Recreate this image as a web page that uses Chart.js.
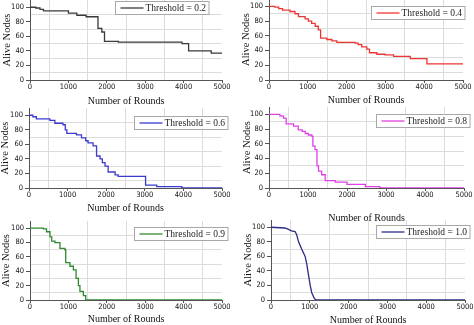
<!DOCTYPE html>
<html lang="en">
<head>
<meta charset="utf-8">
<title>Alive Nodes vs Rounds</title>
<script src="https://cdn.jsdelivr.net/npm/chart.js@4.4.1/dist/chart.umd.min.js"></script>
<style>
  html, body { margin: 0; padding: 0; background: #fff; overflow: hidden; }
  body { width: 474px; height: 325px; position: relative; }
  canvas { position: absolute; }
</style>
</head>
<body>
<canvas id="c1"></canvas>
<canvas id="c2"></canvas>
<canvas id="c3"></canvas>
<canvas id="c4"></canvas>
<canvas id="c5"></canvas>
<canvas id="c6"></canvas>
<script>
// data (rounds where the count changes, alive nodes from there on)
var rounds02 = [0, 150, 260, 350, 1000, 1220, 1460, 1770, 1870, 1940, 2300, 3960, 4130, 4720, 5000];
var alive02  = [100, 99, 97, 95, 92, 89, 87, 71, 66, 53, 52, 50, 40, 37, 37];

var rounds04 = [0, 150, 250, 350, 540, 670, 760, 930, 1015, 1100, 1190, 1270, 1330, 1490, 1620, 1750, 2220, 2300, 2390, 2520, 2590, 2780, 2990, 3210, 3640, 4070, 5000];
var alive04  = [100, 99, 97, 95, 93, 90, 86, 83, 80, 77, 73, 68, 57, 55, 53, 51, 50, 48, 45, 42, 37, 35, 34, 32, 29, 22, 22];

var rounds06 = [0, 100, 190, 540, 670, 880, 940, 980, 1230, 1360, 1470, 1530, 1660, 1750, 1840, 1900, 1970, 2050, 2230, 2310, 3020, 3310, 3960, 5000];
var alive06  = [100, 98, 95, 93, 89, 87, 80, 75, 73, 69, 65, 62, 58, 44, 40, 35, 30, 22, 18, 16, 4, 2, 0, 0];

var rounds08 = [0, 280, 370, 440, 630, 750, 850, 930, 1010, 1100, 1125, 1180, 1230, 1270, 1350, 1440, 1700, 2000, 2470, 2840, 5000];
var alive08  = [100, 98, 95, 87, 84, 79, 77, 74, 72, 70, 57, 52, 30, 23, 18, 10, 8, 5, 2, 0, 0];

var rounds09 = [0, 350, 430, 520, 565, 650, 780, 910, 930, 1040, 1130, 1200, 1260, 1300, 1390, 1450, 5000];
var alive09  = [100, 99, 95, 88, 82, 80, 72, 70, 52, 47, 42, 30, 20, 12, 6, 0, 0];

var rounds10 = [0, 360, 450, 530, 620, 660, 710, 790, 880, 920, 965, 1010, 1050, 1110, 1150, 5000];
var alive10  = [100, 99, 97, 95, 94, 90, 80, 70, 60, 50, 35, 20, 10, 3, 0, 0];

var thresholds = ['0.2', '0.4', '0.6', '0.8', '0.9', '1.0'];
var xTickLabels = [0, 1000, 2000, 3000, 4000, 5000];
var yTickLabels = [0, 20, 40, 60, 80, 100];

// where each panel sits on the page (plot area), and small per-panel offsets
var panels = [
  {id: 'c1', r: rounds02, a: alive02, color: '#3a3a3a', l: 30,  rt: 222, t: 0,     b: 80,    xt: 8.5, yt: 1,   lx: -13, ly: 1, stepped: true},
  {id: 'c2', r: rounds04, a: alive04, color: '#ee3535', l: 269, rt: 463, t: -1.4,  b: 80,    xt: 10,  yt: 1,   lx: 2,   ly: 7, stepped: true},
  {id: 'c3', r: rounds06, a: alive06, color: '#3b3bd0', l: 29,  rt: 222, t: 108,   b: 188,   xt: 10,  yt: 0,   lx: 6,   ly: 8, stepped: true},
  {id: 'c4', r: rounds08, a: alive08, color: '#e040e6', l: 269, rt: 464, t: 107.4, b: 188,   xt: 0,   yt: 2,   lx: 6,   ly: 7, stepped: true},
  {id: 'c5', r: rounds09, a: alive09, color: '#2f8a2f', l: 30,  rt: 222, t: 221,   b: 300.3, xt: 11,  yt: 0,   lx: 6,   ly: 6, stepped: true},
  {id: 'c6', r: rounds10, a: alive10, color: '#2c2c88', l: 271, rt: 465, t: 219.6, b: 299.3, xt: 10,  yt: 1.4, lx: 5,   ly: 5, stepped: false}
];

var boxLegend = {
  id: 'boxLegend',
  afterDraw: function(chart, args, opts) {
    var ctx = chart.ctx, area = chart.chartArea;
    var ds = chart.data.datasets[0];
    ctx.save();
    ctx.font = '9.5px "Liberation Serif", "DejaVu Serif", serif';
    var tw = ctx.measureText(ds.label).width;
    var w = 5 + 23 + 2 + tw + 3, h = 13;
    var x = Math.round(area.right + opts.dx - w) + 0.5;
    var y = Math.round(area.top + opts.dy) + 0.5;
    ctx.fillStyle = '#fff';
    ctx.fillRect(x, y, w, h);
    ctx.strokeStyle = '#a8a8a8';
    ctx.lineWidth = 1;
    ctx.strokeRect(x, y, w, h);
    ctx.strokeStyle = ds.borderColor;
    ctx.lineWidth = 1.3;
    ctx.beginPath();
    ctx.moveTo(x + 5, y + h / 2);
    ctx.lineTo(x + 28, y + h / 2);
    ctx.stroke();
    ctx.fillStyle = '#222';
    ctx.textBaseline = 'middle';
    ctx.fillText(ds.label, x + 30, y + h / 2 + 0.5);
    ctx.restore();
  }
};

var tickFont = {family: '"Liberation Sans Narrow", "DejaVu Sans Condensed", "Liberation Sans", sans-serif', size: 7.5};
var xTitleFont = {family: '"Liberation Serif", "Times New Roman", serif', size: 10};
var yTitleFont = {family: '"Liberation Serif", "Times New Roman", serif', size: 10.5};

panels.forEach(function(p, i) {
  var padTop = 4, padRight = 14, yw = 30, xh = 36;
  var cv = document.getElementById(p.id);
  var w = Math.round(p.rt - p.l) + yw + padRight;
  var h = Math.round(p.b - p.t) + padTop + xh;
  cv.width = w; cv.height = h;
  cv.style.left = (p.l - yw) + 'px';
  cv.style.top = (p.t - padTop) + 'px';

  var pts = p.r.map(function(r, k) { return {x: r, y: p.a[k]}; });

  new Chart(cv.getContext('2d'), {
    type: 'line',
    data: {
      datasets: [{
        label: 'Threshold = ' + thresholds[i],
        data: pts,
        borderColor: p.color,
        borderWidth: 1.3,
        pointRadius: 0,
        fill: false,
        stepped: p.stepped,
        tension: 0
      }]
    },
    plugins: [boxLegend],
    options: {
      responsive: false,
      animation: false,
      layout: {padding: {top: padTop, right: padRight, left: 0, bottom: 0}},
      plugins: {
        legend: {display: false},
        tooltip: {enabled: false},
        boxLegend: {dx: p.lx, dy: p.ly}
      },
      scales: {
        x: {
          type: 'linear', min: 0, max: 5000,
          afterFit: function(s) { s.height = xh; s.paddingLeft = 0; s.paddingRight = 0; },
          ticks: {
            stepSize: 500, autoSkip: false, maxRotation: 0, padding: 0,
            font: tickFont, color: '#111',
            callback: function(v) { return xTickLabels.indexOf(v) >= 0 ? v : ''; }
          },
          grid: {
            tickLength: 3,
            color: function(c) { return (c.tick && xTickLabels.indexOf(c.tick.value) < 0) ? '#dcdcdc' : 'rgba(0,0,0,0)'; },
            tickColor: function(c) { return (c.tick && xTickLabels.indexOf(c.tick.value) >= 0) ? '#555' : 'rgba(0,0,0,0)'; }
          },
          border: {color: '#555', width: 1},
          title: {display: true, text: 'Number of Rounds', font: xTitleFont, color: '#111', padding: {top: 0, bottom: p.xt}}
        },
        y: {
          min: 0, max: 110,
          afterFit: function(s) { s.width = yw; s.paddingTop = 0; s.paddingBottom = 0; },
          ticks: {
            stepSize: 10, autoSkip: false, padding: 2,
            font: tickFont, color: '#111',
            callback: function(v) { return yTickLabels.indexOf(v) >= 0 ? v : ''; }
          },
          grid: {
            tickLength: 4,
            color: function(c) { return (c.tick && c.tick.value < 100 && yTickLabels.indexOf(c.tick.value) < 0) ? '#dcdcdc' : 'rgba(0,0,0,0)'; },
            tickColor: function(c) { return (c.tick && yTickLabels.indexOf(c.tick.value) >= 0) ? '#555' : 'rgba(0,0,0,0)'; }
          },
          border: {color: '#555', width: 1},
          title: {display: true, text: 'Alive Nodes', font: yTitleFont, color: '#111', padding: {top: p.yt, bottom: 0}}
        }
      }
    }
  });
});
</script>
</body>
</html>
